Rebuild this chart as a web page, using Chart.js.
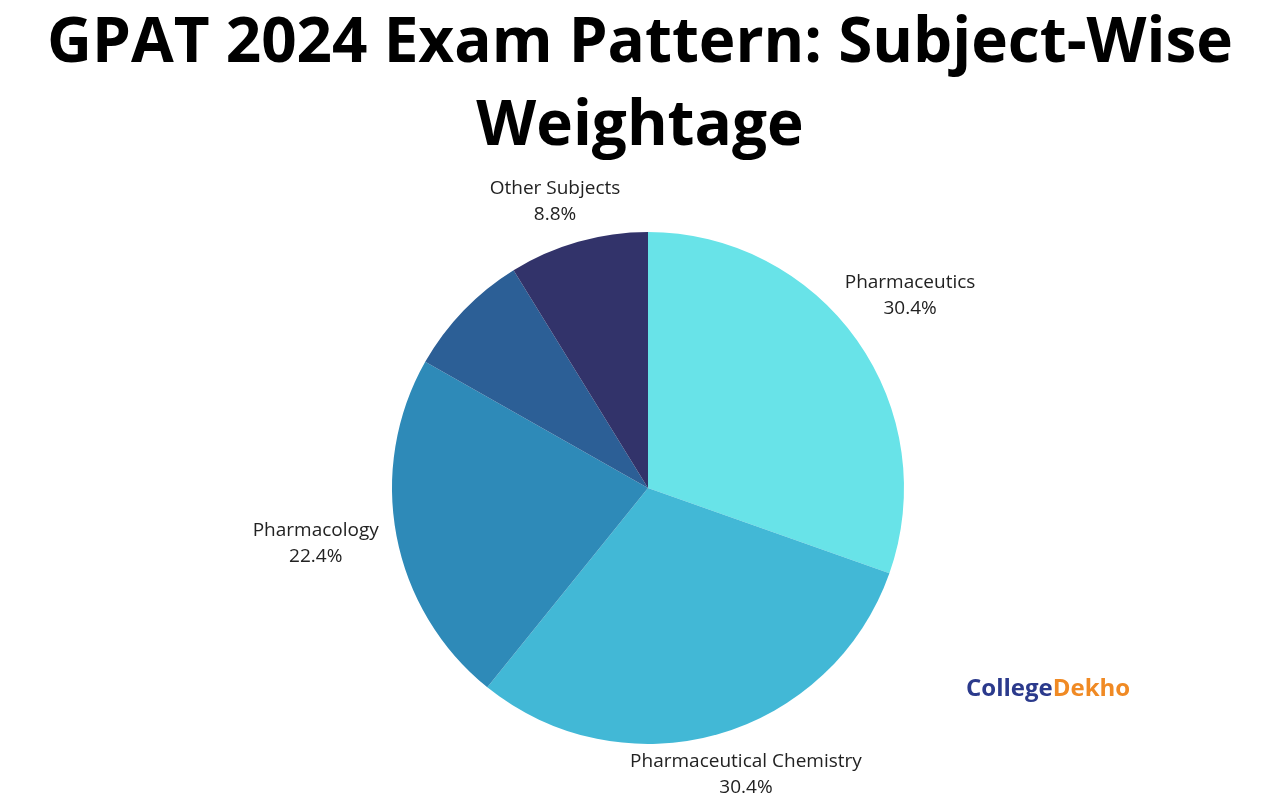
<!DOCTYPE html>
<html>
<head>
<meta charset="utf-8">
<script src="https://cdn.jsdelivr.net/npm/chart.js@4/dist/chart.umd.min.js"></script>
<style>
html, body { margin: 0; padding: 0; background: #fff; }
</style>
</head>
<body>
<canvas id="myChart" width="1280" height="800"></canvas>
<script>
var labels = ['Pharmaceutics', 'Pharmaceutical Chemistry', 'Pharmacology', '', 'Other Subjects']
var values = [30.4, 30.4, 22.4, 8.0, 8.8]
var colors = ['#68E3E8', '#42B8D6', '#2E8AB8', '#2C5F96', '#32336A']
var titleLines = ['GPAT 2024 Exam Pattern: Subject-Wise', 'Weightage']

// title, slice labels and logo text
var textPlugin = {
    id: 'textPlugin',
    afterDraw: function (chart) {
        var ctx = chart.ctx
        ctx.save()
        ctx.fillStyle = '#000'
        ctx.textAlign = 'center'
        ctx.textBaseline = 'middle'
        ctx.font = 'bold 62px "Open Sans"'
        ctx.fillText(titleLines[0], 640, 44)
        ctx.fillText(titleLines[1], 640, 127)

        var arcs = chart.getDatasetMeta(0).data
        ctx.font = '19px "Open Sans"'
        arcs.forEach(function (arc, i) {
            if (!labels[i]) return
            var mid = (arc.startAngle + arc.endAngle) / 2
            var r = arc.outerRadius + 16
            var s = Math.cos(mid), c = Math.sin(mid)
            var hw = ctx.measureText(labels[i]).width / 2
            var x = arc.x + r * s + hw * s * (s > 0 ? 0.75 : 1.05)
            var y = arc.y + r * c + 26 * c - (s > 0.5 ? 20 : 0)
            ctx.fillStyle = '#222'
            ctx.fillText(labels[i], x, y - 13)
            ctx.fillText(values[i].toFixed(1) + '%', x, y + 13)
        })

        ctx.font = 'bold 24px "Open Sans"'
        ctx.textAlign = 'left'
        ctx.fillStyle = '#2B3A8C'
        ctx.fillText('College', 966, 689)
        var w = ctx.measureText('College').width
        ctx.fillStyle = '#F08A24'
        ctx.fillText('Dekho', 966 + w, 689)
        ctx.restore()
    }
}

var ctx = document.getElementById('myChart').getContext('2d');
var myChart = new Chart(ctx, {
    type: 'pie',
    data: {
        labels: labels,
        datasets: [{
            data: values,
            backgroundColor: colors,
            borderWidth: 0
        }]
    },
    options: {
        responsive: false,
        animation: false,
        layout: { padding: { top: 232, bottom: 56, left: 392, right: 376 } },
        plugins: {
            legend: { display: false },
            tooltip: { enabled: false }
        }
    },
    plugins: [textPlugin]
});
</script>
</body>
</html>
